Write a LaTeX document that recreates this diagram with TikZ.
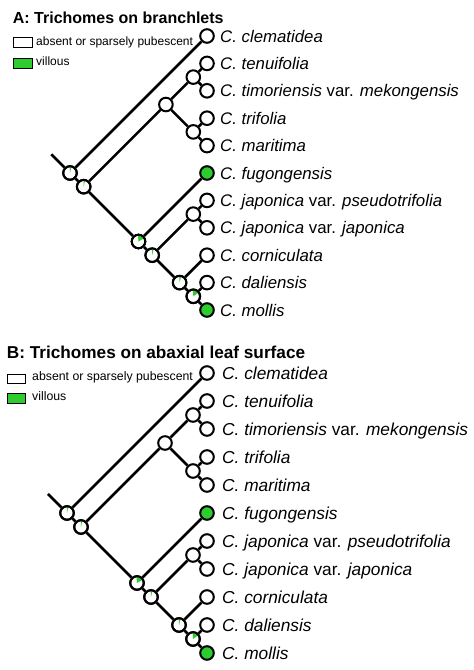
\documentclass[tikz,border=0pt]{standalone}
\usepackage{fontspec}
\usetikzlibrary{calc}
\setmainfont{Liberation Sans}
\definecolor{vgreen}{RGB}{46,204,46}
\tikzset{
  branch/.style={line width=2.6pt},
  circ/.style={circle, draw, line width=2pt, fill=white, minimum size=13.6pt, inner sep=0pt},
  ringline/.style={line width=2pt},
  lab/.style={anchor=base west, inner sep=0pt},
  keybox/.style={draw, line width=1.1pt, anchor=north west, minimum width=19pt, inner sep=0pt},
}
\newcommand{\wedgepoint}[2]{($(#1.center)+({6.3*cos(#2)},{-6.3*sin(#2)})$)}
\newcommand{\piewedge}[3]{%
  \pgfmathsetmacro\wa{#2}\pgfmathsetmacro\wb{#3}%
  \pgfmathsetmacro\wm{(#2+#3)/2}\pgfmathsetmacro\wq{(3*#2+#3)/4}\pgfmathsetmacro\wr{(#2+3*#3)/4}%
  \fill[vgreen] (#1.center) -- \wedgepoint{#1}{\wa} -- \wedgepoint{#1}{\wq} -- \wedgepoint{#1}{\wm} -- \wedgepoint{#1}{\wr} -- \wedgepoint{#1}{\wb} -- cycle;
  \draw[ringline] (#1.center) circle[radius=6.8pt];
}
\begin{document}
\begin{tikzpicture}[x=1pt,y=-1pt]
\useasboundingbox (0,0) rectangle (474,670);
% titles and legends
\node[lab, font=\bfseries\fontsize{16}{19}\selectfont] (A-title) at (12.7,23.2) {A: Trichomes on branchlets};
\node[keybox, minimum height=10pt] (A-kw) at (12.7,36.7) {};
\node[keybox, minimum height=9.5pt, fill=vgreen] (A-kg) at (12.7,58.2) {};
\node[lab, font=\fontsize{12}{14}\selectfont] (A-kwt) at (36,45.8) {absent or sparsely pubescent};
\node[lab, font=\fontsize{12}{14}\selectfont] (A-kgt) at (36,65.3) {villous};

\node[lab, font=\bfseries\fontsize{17.2}{20}\selectfont] (B-title) at (6.7,358.3) {B: Trichomes on abaxial leaf surface};
\node[keybox, minimum height=9pt, minimum width=18.3pt] (B-kw) at (6.7,374.3) {};
\node[keybox, minimum height=9.4pt, minimum width=18.3pt, fill=vgreen] (B-kg) at (6.7,393.3) {};
\node[lab, font=\fontsize{12.3}{14}\selectfont] (B-kwt) at (32,380.6) {absent or sparsely pubescent};
\node[lab, font=\fontsize{12.3}{14}\selectfont] (B-kgt) at (32,400.5) {villous};

\foreach \P/\yo/\dd/\ls/\lx in {A/36/27.4/16.8/220, B/373/28/17.3/222} {
  % tips
  \foreach \i in {0,1,2,3,4,6,7,8,9} {
    \node[circ] (\P-t\i) at ({207},{\yo+\i*\dd}) {};
  }
  \node[circ, fill=vgreen] (\P-t5) at ({207},{\yo+5*\dd}) {};
  \node[circ, fill=vgreen] (\P-t10) at ({207},{\yo+10*\dd}) {};
  % internal nodes
  \node[circ] (\P-n1) at ({207-5*\dd},{\yo+5*\dd}) {};
  \node[circ] (\P-n2) at ({207-4.5*\dd},{\yo+5.5*\dd}) {};
  \node[circ] (\P-n3) at ({207-1.5*\dd},{\yo+2.5*\dd}) {};
  \node[circ] (\P-n4) at ({207-0.5*\dd},{\yo+1.5*\dd}) {};
  \node[circ] (\P-n5) at ({207-0.5*\dd},{\yo+3.5*\dd}) {};
  \node[circ] (\P-n6) at ({207-2.5*\dd},{\yo+7.5*\dd}) {};
  \node[circ] (\P-n7) at ({207-2*\dd},{\yo+8*\dd}) {};
  \node[circ] (\P-n8) at ({207-0.5*\dd},{\yo+6.5*\dd}) {};
  \node[circ] (\P-n9) at ({207-1*\dd},{\yo+9*\dd}) {};
  \node[circ] (\P-n10) at ({207-0.5*\dd},{\yo+9.5*\dd}) {};
  \coordinate (\P-r) at ({207-5.68*\dd},{\yo+4.32*\dd});
  % branches
  \draw[branch] (\P-r) -- (\P-n1);
  \draw[branch] (\P-n1) -- (\P-t0);
  \draw[branch] (\P-n1) -- (\P-n2);
  \draw[branch] (\P-n2) -- (\P-n3);
  \draw[branch] (\P-n3) -- (\P-n4);
  \draw[branch] (\P-n4) -- (\P-t1);
  \draw[branch] (\P-n4) -- (\P-t2);
  \draw[branch] (\P-n3) -- (\P-n5);
  \draw[branch] (\P-n5) -- (\P-t3);
  \draw[branch] (\P-n5) -- (\P-t4);
  \draw[branch] (\P-n2) -- (\P-n6);
  \draw[branch] (\P-n6) -- (\P-t5);
  \draw[branch] (\P-n6) -- (\P-n7);
  \draw[branch] (\P-n7) -- (\P-n8);
  \draw[branch] (\P-n8) -- (\P-t6);
  \draw[branch] (\P-n8) -- (\P-t7);
  \draw[branch] (\P-n7) -- (\P-n9);
  \draw[branch] (\P-n9) -- (\P-t8);
  \draw[branch] (\P-n9) -- (\P-n10);
  \draw[branch] (\P-n10) -- (\P-t9);
  \draw[branch] (\P-n10) -- (\P-t10);
  % ancestral state pies
  \piewedge{\P-n1}{78}{92}
  \piewedge{\P-n2}{78}{92}
  \piewedge{\P-n6}{30}{95}
  \piewedge{\P-n7}{78}{93}
  \piewedge{\P-n9}{76}{93}
  \piewedge{\P-n10}{35}{92}
  % labels
  \begin{scope}[every node/.style={lab, font=\fontsize{\ls}{\ls}\selectfont}]
  \node (\P-l0) at ({\lx},{\yo+0*\dd+0.36*\ls}) {\textit{C. clematidea}};
  \node (\P-l1) at ({\lx},{\yo+1*\dd+0.36*\ls}) {\textit{C. tenuifolia}};
  \node (\P-l2) at ({\lx},{\yo+2*\dd+0.36*\ls}) {\textit{C. timoriensis} var. \textit{mekongensis}};
  \node (\P-l3) at ({\lx},{\yo+3*\dd+0.36*\ls}) {\textit{C. trifolia}};
  \node (\P-l4) at ({\lx},{\yo+4*\dd+0.36*\ls}) {\textit{C. maritima}};
  \node (\P-l5) at ({\lx},{\yo+5*\dd+0.36*\ls}) {\textit{C. fugongensis}};
  \node (\P-l6) at ({\lx},{\yo+6*\dd+0.36*\ls}) {\textit{C. japonica} var. \textit{pseudotrifolia}};
  \node (\P-l7) at ({\lx},{\yo+7*\dd+0.36*\ls}) {\textit{C. japonica} var. \textit{japonica}};
  \node (\P-l8) at ({\lx},{\yo+8*\dd+0.36*\ls}) {\textit{C. corniculata}};
  \node (\P-l9) at ({\lx},{\yo+9*\dd+0.36*\ls}) {\textit{C. daliensis}};
  \node (\P-l10) at ({\lx},{\yo+10*\dd+0.36*\ls}) {\textit{C. mollis}};
  \end{scope}
}
\end{tikzpicture}
\end{document}
